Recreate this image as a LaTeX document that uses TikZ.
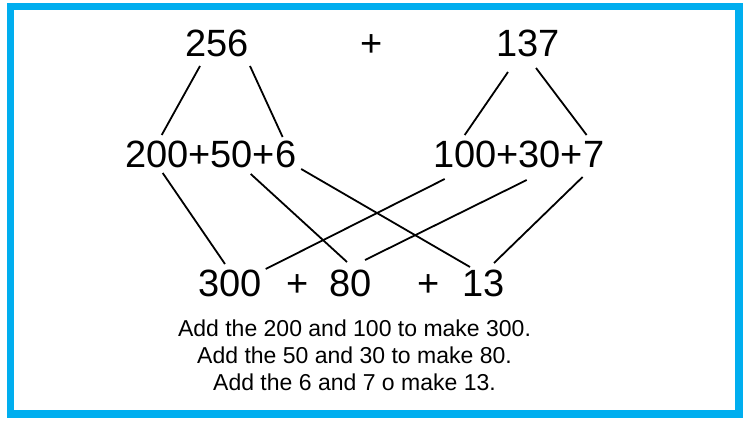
\documentclass[tikz,border=0pt]{standalone}
\usepackage{fontspec}
\setmainfont{Liberation Sans}
\usetikzlibrary{positioning}
\definecolor{frameblue}{RGB}{0,174,239}
\tikzset{
  num/.style={font=\fontsize{38}{38}\selectfont, inner xsep=0pt, inner ysep=6pt, outer sep=0pt, text height=27pt, text depth=0pt},
  note/.style={font=\fontsize{23}{27}\selectfont, inner sep=0pt, anchor=base},
  link/.style={line width=1.8pt, black}
}
\begin{document}
\begin{tikzpicture}[x=1pt,y=-1pt]
    \useasboundingbox (0,0) rectangle (750,422);
    \draw[frameblue, line width=7.5pt] (10.5,6.5) rectangle (739,414);

    % top row
    \node[num, anchor=base] (n256) at (217,57) {256};
    \node[num, anchor=base] (tplus) at (372,57) {+};
    \node[num, anchor=base] (n137) at (528,57) {137};

    % split into parts
    \node[num, anchor=base west] (n200) at (125,168) {200};
    \node[num, right=0pt of n200] (lp1) {+};
    \node[num, right=0pt of lp1] (n50) {50};
    \node[num, right=0pt of n50] (lp2) {+};
    \node[num, right=0pt of lp2] (n6) {6};

    \node[num, anchor=base west] (n100) at (433,168) {100};
    \node[num, right=0pt of n100] (rp1) {+};
    \node[num, right=0pt of rp1] (n30) {30};
    \node[num, right=0pt of n30] (rp2) {+};
    \node[num, right=0pt of rp2] (n7) {7};

    % sums
    \node[num, anchor=base] (r300) at (230,296) {300};
    \node[num, anchor=base] (bplus1) at (298,296) {+};
    \node[num, anchor=base] (r80) at (351,296) {80};
    \node[num, anchor=base] (bplus2) at (429,296) {+};
    \node[num, anchor=base] (r13) at (484,296) {13};

    \draw[link] ([shift={(-17,3)}]n256.south) -- ([shift={(5,0)}]n200.north);
    \draw[link] ([shift={(33,3)}]n256.south) -- ([shift={(-3,2)}]n6.north);
    \draw[link] ([shift={(-20,9)}]n137.south) -- (n100.north);
    \draw[link] ([shift={(8,5)}]n137.south) -- ([shift={(-7,0)}]n7.north);

    \draw[link] ([shift={(6,-1)}]n200.south) -- ([shift={(-5,1)}]r300.north);
    \draw[link] ([shift={(19,0)}]n50.south) -- ([shift={(-4,-1)}]r80.north);
    \draw[link] ([shift={(5,-5)}]n6.south east) -- ([shift={(-14,4)}]r13.north);
    \draw[link] ([shift={(-20,5)}]n100.south) -- ([shift={(4,6)}]r300.north east);
    \draw[link] ([shift={(-13,6)}]n30.south) -- ([shift={(14,-3)}]r80.north);
    \draw[link] ([shift={(-11,3)}]n7.south) -- ([shift={(10,0)}]r13.north);

    \node[note] (line1) at (354.5,336) {Add the 200 and 100 to make 300.};
    \node[note] (line2) at (354.5,363) {Add the 50 and 30 to make 80.};
    \node[note] (line3) at (354.5,390) {Add the 6 and 7 o make 13.};
\end{tikzpicture}
\end{document}
